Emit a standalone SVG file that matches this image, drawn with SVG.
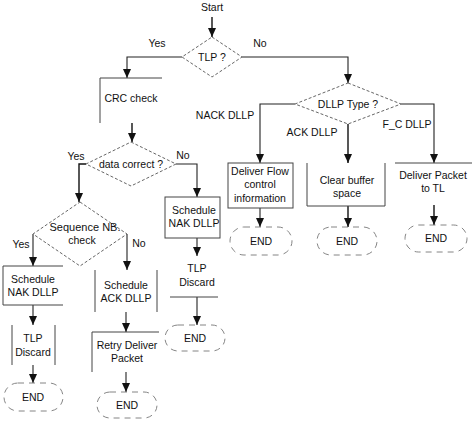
<svg xmlns="http://www.w3.org/2000/svg" width="474" height="421" viewBox="0 0 474 421">
<defs>
<marker id="ah" markerUnits="userSpaceOnUse" markerWidth="9" markerHeight="8" refX="9" refY="4" orient="auto" viewBox="0 0 9 8">
<path d="M0,0 L9,4 L0,8 Z" fill="#111"/>
</marker>
<style>
text{font-family:"Liberation Sans",Arial,sans-serif;font-size:10.5px;fill:#111;text-anchor:middle}
.edge{fill:none;stroke:#222;stroke-width:1.1}
.arr{fill:none;stroke:#111;stroke-width:1.4}
.dia{fill:#fff;stroke:#555;stroke-width:0.9;stroke-dasharray:3,2}
.box{fill:none;stroke:#444;stroke-width:1}
.end{fill:#fff;stroke:#777;stroke-width:0.9;stroke-dasharray:6,5}
</style>
</defs>
<rect width="474" height="421" fill="#fff"/>
<g id="connectors">
<path class="arr" d="M212,17 V37" marker-end="url(#ah)"/>
<path class="edge" d="M182,57 H127 V78" marker-end="url(#ah)"/>
<path class="edge" d="M242,57 H348 V83" marker-end="url(#ah)"/>
<path class="arr" d="M132,123 V142" marker-end="url(#ah)"/>
<path class="arr" d="M86,164 H79 V202" marker-end="url(#ah)"/>
<path class="edge" d="M176,164 H197 V197" marker-end="url(#ah)"/>
<path class="edge" d="M33,234 V266" marker-end="url(#ah)"/>
<path class="edge" d="M127,234 V270" marker-end="url(#ah)"/>
<path class="edge" d="M33,305 V325" marker-end="url(#ah)"/>
<path class="edge" d="M33,365 V383" marker-end="url(#ah)"/>
<path class="edge" d="M126,312 V332" marker-end="url(#ah)"/>
<path class="edge" d="M126,372 V392" marker-end="url(#ah)"/>
<path class="edge" d="M197,238 V256" marker-end="url(#ah)"/>
<path class="edge" d="M197,297 V325" marker-end="url(#ah)"/>
<path class="edge" d="M295,104 H260 V163" marker-end="url(#ah)"/>
<path class="arr" d="M348,124 V163" marker-end="url(#ah)"/>
<path class="edge" d="M401,104 H434 V163" marker-end="url(#ah)"/>
<path class="edge" d="M260,208 V227" marker-end="url(#ah)"/>
<path class="arr" d="M348,206 V227" marker-end="url(#ah)"/>
<path class="arr" d="M434,205 V225" marker-end="url(#ah)"/>
</g>
<g id="labels">
<text x="157" y="47">Yes</text>
<text x="260" y="47">No</text>
<text x="76" y="160">Yes</text>
<text x="183" y="159">No</text>
<text x="21" y="248">Yes</text>
<text x="139" y="247">No</text>
<text x="225" y="119">NACK DLLP</text>
<text x="312" y="136">ACK DLLP</text>
<text x="407" y="128">F_C DLLP</text>
</g>
<g id="start"><text x="212" y="11">Start</text></g>
<g id="tlp">
<polygon class="dia" points="212,37 242,57 212,77 182,57"/>
<text x="212" y="61">TLP ?</text>
</g>
<g id="crc">
<path class="box" d="M100,123 V78 H162"/>
<text x="131" y="102">CRC check</text>
</g>
<g id="datacorrect">
<polygon class="dia" points="131,142 176,164 131,186 86,164"/>
<text x="131" y="168">data correct ?</text>
</g>
<g id="seqnb">
<polygon class="dia" points="80,202 127,234 80,266 33,234"/>
<text x="85" y="231" style="font-size:11px">Sequence NB.</text>
<text x="82" y="244">check</text>
</g>
<g id="nak1">
<path class="box" d="M63,266 H3 V305 H63"/>
<text x="33" y="283">Schedule</text>
<text x="33" y="296">NAK DLLP</text>
</g>
<g id="discard1">
<path class="box" d="M12,325 V365 M55,325 V365"/>
<text x="33" y="342">TLP</text>
<text x="33" y="356">Discard</text>
</g>
<g id="end1">
<rect class="end" x="4" y="383" width="59" height="28" rx="14"/>
<text x="33" y="401">END</text>
</g>
<g id="ack">
<path class="box" d="M95,270 V312 M157,270 V312"/>
<text x="126" y="289">Schedule</text>
<text x="126" y="302">ACK DLLP</text>
</g>
<g id="retry">
<path class="box" d="M92,372 V332 H159"/>
<text x="127" y="349">Retry Deliver</text>
<text x="127" y="362">Packet</text>
</g>
<g id="end2">
<rect class="end" x="97" y="392" width="60" height="26" rx="13"/>
<text x="127" y="409">END</text>
</g>
<g id="nak2">
<rect class="box" x="165" y="197" width="55" height="41"/>
<text x="194" y="214">Schedule</text>
<text x="194" y="227">NAK DLLP</text>
</g>
<g id="discard2">
<path class="box" d="M170,297 H218"/>
<text x="197" y="272">TLP</text>
<text x="197" y="286">Discard</text>
</g>
<g id="end3">
<rect class="end" x="165" y="325" width="60" height="26" rx="13"/>
<text x="195" y="342">END</text>
</g>
<g id="dllp">
<polygon class="dia" points="348,83 401,104 348,124 295,104"/>
<text x="348" y="108">DLLP Type ?</text>
</g>
<g id="flow">
<rect class="box" x="228" y="163" width="65" height="45"/>
<text x="260" y="175">Deliver Flow</text>
<text x="260" y="188">control</text>
<text x="260" y="202">information</text>
</g>
<g id="end4">
<rect class="end" x="230" y="227" width="62" height="28" rx="14"/>
<text x="261" y="245">END</text>
</g>
<g id="clear">
<path class="box" d="M307,163 V206 H385 V163"/>
<text x="347" y="184">Clear buffer</text>
<text x="347" y="197">space</text>
</g>
<g id="end5">
<rect class="end" x="317" y="227" width="60" height="28" rx="14"/>
<text x="347" y="245">END</text>
</g>
<g id="tl">
<path class="box" d="M395,163 H472"/>
<text x="433" y="179">Deliver Packet</text>
<text x="433" y="192">to TL</text>
</g>
<g id="end6">
<rect class="end" x="405" y="225" width="62" height="27" rx="13.5"/>
<text x="436" y="242">END</text>
</g>
</svg>
